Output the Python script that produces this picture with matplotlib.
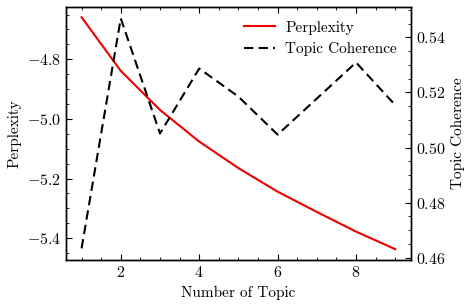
import matplotlib
matplotlib.use("Agg")
import matplotlib.pyplot as plt
from matplotlib.ticker import AutoMinorLocator

plt.rcParams['font.family'] = 'cmr10'
plt.rcParams['mathtext.fontset'] = 'cm'
plt.rcParams['axes.formatter.use_mathtext'] = True
plt.rcParams['font.size'] = 11
plt.rcParams['xtick.labelsize'] = 11.5
plt.rcParams['ytick.labelsize'] = 11.5
plt.rcParams['axes.linewidth'] = 1.0

# data
topics = [1, 2, 3, 4, 5, 6, 7, 8, 9]
perplexity = [-4.659, -4.839, -4.970, -5.076, -5.165, -5.244, -5.312, -5.378, -5.437]
coherence = [0.4634, 0.5469, 0.5051, 0.5287, 0.5185, 0.5047, 0.5178, 0.5309, 0.5154]

fig, ax = plt.subplots(figsize=(4.74, 3.08), dpi=100)
l1, = ax.plot(topics, perplexity, color='#ee0000', lw=1.5, label='Perplexity')
ax.set_xlabel('Number of Topic', labelpad=4)
ax.set_ylabel('Perplexity')
ax.set_ylim(-5.473, -4.625)
ax.set_xticks([2, 4, 6, 8])
ax.xaxis.set_minor_locator(AutoMinorLocator())
ax.yaxis.set_minor_locator(AutoMinorLocator())
ax.tick_params(which='both', direction='in', top=True)
ax.tick_params(which='major', length=4.5)
ax.tick_params(which='minor', length=2.5)

ax2 = ax.twinx()
l2, = ax2.plot(topics, coherence, color='black', ls=(0, (4.5, 2.5)), lw=1.5,
               label='Topic Coherence')
ax2.set_ylabel('Topic Coherence')
ax2.set_ylim(0.4592, 0.551)
ax2.set_yticks([0.46, 0.48, 0.50, 0.52, 0.54])
ax2.yaxis.set_minor_locator(AutoMinorLocator())
ax2.tick_params(which='both', direction='in')
ax2.tick_params(which='major', length=4.5)
ax2.tick_params(which='minor', length=2.5)

ax2.legend(handles=[l1, l2], loc='upper right', frameon=False,
           handlelength=2.0, handletextpad=0.7, borderaxespad=0.5, labelspacing=0.5)

fig.subplots_adjust(left=0.139, right=0.867, top=0.977, bottom=0.156)
fig.savefig('out.png', dpi=100)
